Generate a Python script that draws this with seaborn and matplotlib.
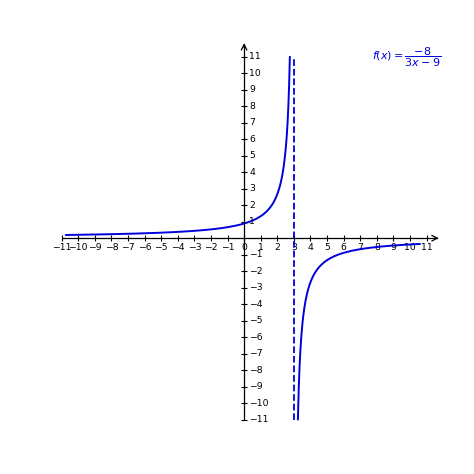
import numpy as np
import matplotlib
matplotlib.use("Agg")
import matplotlib.pyplot as plt
import seaborn as sns

# f(x) = a / (b*x + c)
coef_a = -8
coef_b = 3
coef_c = -9
asymptote_x = 3
x_ticks = list(range(-11, 12))
y_ticks = [v for v in range(-11, 12) if v != 0]
x_start, x_end = -10.75, 10.6
y_clip = 11

sns.set_style("white")
fig = plt.figure(figsize=(4.74, 4.74), dpi=100)
ax = fig.add_axes([0.095, 0.08, 0.84, 0.835])
ax.set_xlim(-12, 12)
ax.set_ylim(-12, 12)

def f(x):
    return coef_a / (coef_b * x + coef_c)

xl_end = (coef_a / y_clip - coef_c) / coef_b
xr_start = (coef_a / -y_clip - coef_c) / coef_b
xl = np.linspace(x_start, xl_end, 600)
xr = np.linspace(xr_start, x_end, 600)
sns.lineplot(x=xl, y=f(xl), ax=ax, color="#0000dd", lw=1.4, sort=False)
sns.lineplot(x=xr, y=f(xr), ax=ax, color="#0000dd", lw=1.4, sort=False)
ax.plot([asymptote_x, asymptote_x], [-11, 11], color="#0000dd", ls="--", lw=1.3)

for s in ["top", "right"]:
    ax.spines[s].set_visible(False)
ax.spines["left"].set_position(("data", 0))
ax.spines["bottom"].set_position(("data", 0))
ax.spines["left"].set_bounds(-11, 11.7)
ax.spines["bottom"].set_bounds(-11, 11.6)
for s in ["left", "bottom"]:
    ax.spines[s].set_color("black")
    ax.spines[s].set_linewidth(0.9)
ax.annotate("", xy=(11.9, 0), xytext=(11.3, 0),
            arrowprops=dict(arrowstyle="->", color="black", lw=0.9))
ax.annotate("", xy=(0, 12), xytext=(0, 11.4),
            arrowprops=dict(arrowstyle="->", color="black", lw=0.9))

ax.set_xticks(x_ticks)
ax.set_yticks(y_ticks)
ax.set_xticklabels([str(v).replace("-", "\u2212") for v in x_ticks], fontsize=6.7, color="black")
ax.set_yticklabels([])
ax.tick_params(axis="x", direction="inout", length=5, width=0.8, pad=1, bottom=True, colors="black")
ax.tick_params(axis="y", direction="inout", length=5, width=0.8, left=True, colors="black")
for v in y_ticks:
    ax.text(0.3, v, str(v).replace("-", "\u2212"), fontsize=6.7, va="center", ha="left", color="black")
ax.grid(False)

ax.text(7.7, 11, r"$f(x)=\dfrac{-8}{3x-9}$", color="#0000dd", fontsize=8, va="center")
fig.savefig("out.png", dpi=100)
